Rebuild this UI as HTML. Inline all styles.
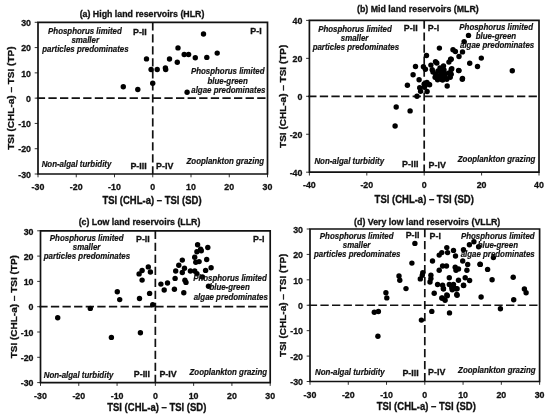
<!DOCTYPE html>
<html><head><meta charset="utf-8"><title>TSI deviation plots</title>
<style>
html,body{margin:0;padding:0;background:#fff;}
body{width:550px;height:418px;overflow:hidden;}
svg{display:block;}
text{font-family:"Liberation Sans", Arial, sans-serif;fill:#111;stroke:#111;stroke-width:0.3px;}
circle{fill:#000;}
.it{stroke-width:0.2px;}
.ax{fill:none;stroke:#111;stroke-width:1.7;}
.tk{stroke:#333;stroke-width:1;}
.dh{stroke:#111;stroke-width:1.7;stroke-dasharray:8.3 3.3;}
.dv{stroke:#111;stroke-width:1.7;stroke-dasharray:8.3 3.7;}
</style></head>
<body>
<svg width="550" height="418" viewBox="0 0 550 418">
<rect width="550" height="418" fill="#fff"/>
<line x1="38" y1="174" x2="38" y2="177.3" class="tk"/>
<text transform="translate(38,190) scale(0.95,1)" font-size="9.3" font-weight="bold" text-anchor="middle">-30</text>
<line x1="76.25" y1="174" x2="76.25" y2="177.3" class="tk"/>
<text transform="translate(76.25,190) scale(0.95,1)" font-size="9.3" font-weight="bold" text-anchor="middle">-20</text>
<line x1="114.5" y1="174" x2="114.5" y2="177.3" class="tk"/>
<text transform="translate(114.5,190) scale(0.95,1)" font-size="9.3" font-weight="bold" text-anchor="middle">-10</text>
<line x1="152.75" y1="174" x2="152.75" y2="177.3" class="tk"/>
<text transform="translate(152.75,190) scale(0.95,1)" font-size="9.3" font-weight="bold" text-anchor="middle">0</text>
<line x1="191" y1="174" x2="191" y2="177.3" class="tk"/>
<text transform="translate(191,190) scale(0.95,1)" font-size="9.3" font-weight="bold" text-anchor="middle">10</text>
<line x1="229.25" y1="174" x2="229.25" y2="177.3" class="tk"/>
<text transform="translate(229.25,190) scale(0.95,1)" font-size="9.3" font-weight="bold" text-anchor="middle">20</text>
<line x1="267.5" y1="174" x2="267.5" y2="177.3" class="tk"/>
<text transform="translate(267.5,190) scale(0.95,1)" font-size="9.3" font-weight="bold" text-anchor="middle">30</text>
<line x1="34.7" y1="174" x2="38" y2="174" class="tk"/>
<text transform="translate(31,177.7) scale(0.95,1)" font-size="9.3" font-weight="bold" text-anchor="end">-30</text>
<line x1="34.7" y1="148.72" x2="38" y2="148.72" class="tk"/>
<text transform="translate(31,152.42) scale(0.95,1)" font-size="9.3" font-weight="bold" text-anchor="end">-20</text>
<line x1="34.7" y1="123.43" x2="38" y2="123.43" class="tk"/>
<text transform="translate(31,127.13) scale(0.95,1)" font-size="9.3" font-weight="bold" text-anchor="end">-10</text>
<line x1="34.7" y1="98.15" x2="38" y2="98.15" class="tk"/>
<text transform="translate(31,101.85) scale(0.95,1)" font-size="9.3" font-weight="bold" text-anchor="end">0</text>
<line x1="34.7" y1="72.87" x2="38" y2="72.87" class="tk"/>
<text transform="translate(31,76.57) scale(0.95,1)" font-size="9.3" font-weight="bold" text-anchor="end">10</text>
<line x1="34.7" y1="47.58" x2="38" y2="47.58" class="tk"/>
<text transform="translate(31,51.28) scale(0.95,1)" font-size="9.3" font-weight="bold" text-anchor="end">20</text>
<line x1="34.7" y1="22.3" x2="38" y2="22.3" class="tk"/>
<text transform="translate(31,26) scale(0.95,1)" font-size="9.3" font-weight="bold" text-anchor="end">30</text>
<line x1="36.8" y1="98.15" x2="267.5" y2="98.15" class="dh"/>
<line x1="152.75" y1="22.3" x2="152.75" y2="174" class="dv"/>
<path d="M38,22.3H267.5V174H38Z" class="ax"/>
<circle cx="203.5" cy="34" r="2.7"/>
<circle cx="178" cy="47.9" r="2.7"/>
<circle cx="184.2" cy="54.5" r="2.7"/>
<circle cx="188.6" cy="54.5" r="2.7"/>
<circle cx="195.3" cy="57.7" r="2.7"/>
<circle cx="206.8" cy="57.4" r="2.7"/>
<circle cx="217.2" cy="53.1" r="2.7"/>
<circle cx="146.5" cy="58.9" r="2.7"/>
<circle cx="169.5" cy="59" r="2.7"/>
<circle cx="177.3" cy="62.3" r="2.7"/>
<circle cx="151.1" cy="69.5" r="2.7"/>
<circle cx="157.2" cy="69.5" r="2.7"/>
<circle cx="165.4" cy="68" r="2.7"/>
<circle cx="165.7" cy="69.6" r="2.7"/>
<circle cx="152.7" cy="83.3" r="2.7"/>
<circle cx="123.3" cy="86.8" r="2.7"/>
<circle cx="137.8" cy="89.5" r="2.7"/>
<circle cx="187.1" cy="92.3" r="2.7"/>
<text transform="translate(142,17.2)" font-size="8.8" font-weight="bold" text-anchor="middle">(a) High land reservoirs (HLR)</text>
<text transform="translate(84.9,33.7) scale(0.952,1)" font-size="8.3" font-weight="bold" font-style="italic" class="it" text-anchor="middle">Phosphorus limited</text>
<text transform="translate(85.2,43.1) scale(0.952,1)" font-size="8.3" font-weight="bold" font-style="italic" class="it" text-anchor="middle">smaller</text>
<text transform="translate(85.45,52.3) scale(0.952,1)" font-size="8.3" font-weight="bold" font-style="italic" class="it" text-anchor="middle">particles predominates</text>
<text transform="translate(227.75,74.1) scale(0.952,1)" font-size="8.3" font-weight="bold" font-style="italic" class="it" text-anchor="middle">Phosphorus limited</text>
<text transform="translate(227.65,83.5) scale(0.952,1)" font-size="8.3" font-weight="bold" font-style="italic" class="it" text-anchor="middle">blue-green</text>
<text transform="translate(228.35,92.7) scale(0.952,1)" font-size="8.3" font-weight="bold" font-style="italic" class="it" text-anchor="middle">algae predominates</text>
<text transform="translate(139.9,34.8)" font-size="8.9" font-weight="bold" text-anchor="middle">P-II</text>
<text transform="translate(256,34.2)" font-size="8.9" font-weight="bold" text-anchor="middle">P-I</text>
<text transform="translate(138.55,168.9)" font-size="8.9" font-weight="bold" text-anchor="middle">P-III</text>
<text transform="translate(164.7,168.9)" font-size="8.9" font-weight="bold" text-anchor="middle">P-IV</text>
<text transform="translate(76.5,166.5) scale(0.952,1)" font-size="8.3" font-weight="bold" font-style="italic" class="it" text-anchor="middle">Non-algal turbidity</text>
<text transform="translate(225.3,163.8) scale(0.952,1)" font-size="8.3" font-weight="bold" font-style="italic" class="it" text-anchor="middle">Zooplankton grazing</text>
<text transform="translate(14.3,98.15) rotate(-90) scale(1,0.95)" font-size="10" font-weight="bold" text-anchor="middle">TSI (CHL-a) – TSI (TP)</text>
<text transform="translate(152,204.2) scale(0.95,1)" font-size="10" font-weight="bold" text-anchor="middle">TSI (CHL-a) – TSI (SD)</text>
<line x1="309.4" y1="172.2" x2="309.4" y2="175.5" class="tk"/>
<text transform="translate(309.4,188.2) scale(0.95,1)" font-size="9.3" font-weight="bold" text-anchor="middle">-40</text>
<line x1="366.8" y1="172.2" x2="366.8" y2="175.5" class="tk"/>
<text transform="translate(366.8,188.2) scale(0.95,1)" font-size="9.3" font-weight="bold" text-anchor="middle">-20</text>
<line x1="424.2" y1="172.2" x2="424.2" y2="175.5" class="tk"/>
<text transform="translate(424.2,188.2) scale(0.95,1)" font-size="9.3" font-weight="bold" text-anchor="middle">0</text>
<line x1="481.6" y1="172.2" x2="481.6" y2="175.5" class="tk"/>
<text transform="translate(481.6,188.2) scale(0.95,1)" font-size="9.3" font-weight="bold" text-anchor="middle">20</text>
<line x1="539" y1="172.2" x2="539" y2="175.5" class="tk"/>
<text transform="translate(539,188.2) scale(0.95,1)" font-size="9.3" font-weight="bold" text-anchor="middle">40</text>
<line x1="306.1" y1="172.2" x2="309.4" y2="172.2" class="tk"/>
<text transform="translate(302.4,175.9) scale(0.95,1)" font-size="9.3" font-weight="bold" text-anchor="end">-40</text>
<line x1="306.1" y1="134.25" x2="309.4" y2="134.25" class="tk"/>
<text transform="translate(302.4,137.95) scale(0.95,1)" font-size="9.3" font-weight="bold" text-anchor="end">-20</text>
<line x1="306.1" y1="96.3" x2="309.4" y2="96.3" class="tk"/>
<text transform="translate(302.4,100) scale(0.95,1)" font-size="9.3" font-weight="bold" text-anchor="end">0</text>
<line x1="306.1" y1="58.35" x2="309.4" y2="58.35" class="tk"/>
<text transform="translate(302.4,62.05) scale(0.95,1)" font-size="9.3" font-weight="bold" text-anchor="end">20</text>
<line x1="306.1" y1="20.4" x2="309.4" y2="20.4" class="tk"/>
<text transform="translate(302.4,24.1) scale(0.95,1)" font-size="9.3" font-weight="bold" text-anchor="end">40</text>
<line x1="308.2" y1="96.3" x2="539" y2="96.3" class="dh"/>
<line x1="424.2" y1="20.4" x2="424.2" y2="172.2" class="dv"/>
<path d="M309.4,20.4H539V172.2H309.4Z" class="ax"/>
<circle cx="468.5" cy="35.4" r="2.7"/>
<circle cx="464.1" cy="41.6" r="2.7"/>
<circle cx="462.5" cy="51.9" r="2.7"/>
<circle cx="453" cy="49.7" r="2.7"/>
<circle cx="455.4" cy="51.5" r="2.7"/>
<circle cx="459" cy="56.5" r="2.7"/>
<circle cx="451.2" cy="59.3" r="2.7"/>
<circle cx="481.3" cy="58.1" r="2.7"/>
<circle cx="469.7" cy="63.2" r="2.7"/>
<circle cx="477.5" cy="66.5" r="2.7"/>
<circle cx="459" cy="70.6" r="2.7"/>
<circle cx="451.2" cy="69.4" r="2.7"/>
<circle cx="462.5" cy="78.4" r="2.7"/>
<circle cx="451.2" cy="74.2" r="2.7"/>
<circle cx="512.3" cy="70.7" r="2.7"/>
<circle cx="439.4" cy="48.1" r="2.7"/>
<circle cx="426.5" cy="55.5" r="2.7"/>
<circle cx="450.6" cy="59.2" r="2.7"/>
<circle cx="448.9" cy="62.1" r="2.7"/>
<circle cx="436.8" cy="63" r="2.7"/>
<circle cx="435.5" cy="61.7" r="2.7"/>
<circle cx="430.9" cy="65.1" r="2.7"/>
<circle cx="423.4" cy="66.7" r="2.7"/>
<circle cx="425.4" cy="69.2" r="2.7"/>
<circle cx="432.2" cy="69.7" r="2.7"/>
<circle cx="443.5" cy="65.9" r="2.7"/>
<circle cx="451.8" cy="68.8" r="2.7"/>
<circle cx="458.6" cy="70.5" r="2.7"/>
<circle cx="435.9" cy="74.3" r="2.7"/>
<circle cx="439.3" cy="76" r="2.7"/>
<circle cx="445.1" cy="74.3" r="2.7"/>
<circle cx="450.2" cy="74.3" r="2.7"/>
<circle cx="435.1" cy="77.2" r="2.7"/>
<circle cx="437.6" cy="79.7" r="2.7"/>
<circle cx="442.6" cy="80.1" r="2.7"/>
<circle cx="446.8" cy="79.3" r="2.7"/>
<circle cx="450.2" cy="77.2" r="2.7"/>
<circle cx="462.3" cy="79.3" r="2.7"/>
<circle cx="447.2" cy="86" r="2.7"/>
<circle cx="428.4" cy="84.3" r="2.7"/>
<circle cx="424.2" cy="83.9" r="2.7"/>
<circle cx="440.6" cy="71.7" r="2.7"/>
<circle cx="444.8" cy="73.5" r="2.7"/>
<circle cx="449" cy="72.9" r="2.7"/>
<circle cx="437" cy="78.2" r="2.7"/>
<circle cx="441.8" cy="79.4" r="2.7"/>
<circle cx="445.4" cy="77.6" r="2.7"/>
<circle cx="440" cy="68" r="2.7"/>
<circle cx="438" cy="71" r="2.7"/>
<circle cx="442" cy="75" r="2.7"/>
<circle cx="444" cy="70" r="2.7"/>
<circle cx="433" cy="72" r="2.7"/>
<circle cx="415.5" cy="66.5" r="2.7"/>
<circle cx="413.1" cy="74.7" r="2.7"/>
<circle cx="419.1" cy="79.7" r="2.7"/>
<circle cx="407.4" cy="85.2" r="2.7"/>
<circle cx="424.5" cy="84.2" r="2.7"/>
<circle cx="426.9" cy="82.4" r="2.7"/>
<circle cx="429.6" cy="84.8" r="2.7"/>
<circle cx="419.7" cy="87.8" r="2.7"/>
<circle cx="424.5" cy="87.2" r="2.7"/>
<circle cx="420.6" cy="91.2" r="2.7"/>
<circle cx="427.1" cy="91.5" r="2.7"/>
<circle cx="417" cy="96.3" r="2.7"/>
<circle cx="396.2" cy="107" r="2.7"/>
<circle cx="410.1" cy="110.9" r="2.7"/>
<circle cx="395.1" cy="126" r="2.7"/>
<text transform="translate(417.9,11.8)" font-size="8.8" font-weight="bold" text-anchor="middle">(b) Mid land reservoirs (MLR)</text>
<text transform="translate(355,31.5) scale(0.952,1)" font-size="8.3" font-weight="bold" font-style="italic" class="it" text-anchor="middle">Phosphorus limited</text>
<text transform="translate(354.6,40.9) scale(0.952,1)" font-size="8.3" font-weight="bold" font-style="italic" class="it" text-anchor="middle">smaller</text>
<text transform="translate(355.85,49.9) scale(0.952,1)" font-size="8.3" font-weight="bold" font-style="italic" class="it" text-anchor="middle">particles predominates</text>
<text transform="translate(496.15,29.7) scale(0.952,1)" font-size="8.3" font-weight="bold" font-style="italic" class="it" text-anchor="middle">Phosphorus limited</text>
<text transform="translate(495.95,38.9) scale(0.952,1)" font-size="8.3" font-weight="bold" font-style="italic" class="it" text-anchor="middle">blue-green</text>
<text transform="translate(497.1,48.2) scale(0.952,1)" font-size="8.3" font-weight="bold" font-style="italic" class="it" text-anchor="middle">algae predominates</text>
<text transform="translate(410.7,30.7)" font-size="8.9" font-weight="bold" text-anchor="middle">P-II</text>
<text transform="translate(433.45,30.7)" font-size="8.9" font-weight="bold" text-anchor="middle">P-I</text>
<text transform="translate(410.25,167.2)" font-size="8.9" font-weight="bold" text-anchor="middle">P-III</text>
<text transform="translate(437.2,167.7)" font-size="8.9" font-weight="bold" text-anchor="middle">P-IV</text>
<text transform="translate(349.25,163.5) scale(0.952,1)" font-size="8.3" font-weight="bold" font-style="italic" class="it" text-anchor="middle">Non-algal turbidity</text>
<text transform="translate(496.55,162.4) scale(0.952,1)" font-size="8.3" font-weight="bold" font-style="italic" class="it" text-anchor="middle">Zooplankton grazing</text>
<text transform="translate(286,96.3) rotate(-90) scale(1,0.95)" font-size="10" font-weight="bold" text-anchor="middle">TSI (CHL-a) – TSI (TP)</text>
<text transform="translate(424.2,203) scale(0.95,1)" font-size="10" font-weight="bold" text-anchor="middle">TSI (CHL-a) – TSI (SD)</text>
<line x1="40.5" y1="382.6" x2="40.5" y2="385.9" class="tk"/>
<text transform="translate(40.5,398.6) scale(0.95,1)" font-size="9.3" font-weight="bold" text-anchor="middle">-30</text>
<line x1="78.78" y1="382.6" x2="78.78" y2="385.9" class="tk"/>
<text transform="translate(78.78,398.6) scale(0.95,1)" font-size="9.3" font-weight="bold" text-anchor="middle">-20</text>
<line x1="117.07" y1="382.6" x2="117.07" y2="385.9" class="tk"/>
<text transform="translate(117.07,398.6) scale(0.95,1)" font-size="9.3" font-weight="bold" text-anchor="middle">-10</text>
<line x1="155.35" y1="382.6" x2="155.35" y2="385.9" class="tk"/>
<text transform="translate(155.35,398.6) scale(0.95,1)" font-size="9.3" font-weight="bold" text-anchor="middle">0</text>
<line x1="193.63" y1="382.6" x2="193.63" y2="385.9" class="tk"/>
<text transform="translate(193.63,398.6) scale(0.95,1)" font-size="9.3" font-weight="bold" text-anchor="middle">10</text>
<line x1="231.92" y1="382.6" x2="231.92" y2="385.9" class="tk"/>
<text transform="translate(231.92,398.6) scale(0.95,1)" font-size="9.3" font-weight="bold" text-anchor="middle">20</text>
<line x1="270.2" y1="382.6" x2="270.2" y2="385.9" class="tk"/>
<text transform="translate(270.2,398.6) scale(0.95,1)" font-size="9.3" font-weight="bold" text-anchor="middle">30</text>
<line x1="37.2" y1="382.6" x2="40.5" y2="382.6" class="tk"/>
<text transform="translate(33.5,386.3) scale(0.95,1)" font-size="9.3" font-weight="bold" text-anchor="end">-30</text>
<line x1="37.2" y1="357.3" x2="40.5" y2="357.3" class="tk"/>
<text transform="translate(33.5,361) scale(0.95,1)" font-size="9.3" font-weight="bold" text-anchor="end">-20</text>
<line x1="37.2" y1="332" x2="40.5" y2="332" class="tk"/>
<text transform="translate(33.5,335.7) scale(0.95,1)" font-size="9.3" font-weight="bold" text-anchor="end">-10</text>
<line x1="37.2" y1="306.7" x2="40.5" y2="306.7" class="tk"/>
<text transform="translate(33.5,310.4) scale(0.95,1)" font-size="9.3" font-weight="bold" text-anchor="end">0</text>
<line x1="37.2" y1="281.4" x2="40.5" y2="281.4" class="tk"/>
<text transform="translate(33.5,285.1) scale(0.95,1)" font-size="9.3" font-weight="bold" text-anchor="end">10</text>
<line x1="37.2" y1="256.1" x2="40.5" y2="256.1" class="tk"/>
<text transform="translate(33.5,259.8) scale(0.95,1)" font-size="9.3" font-weight="bold" text-anchor="end">20</text>
<line x1="37.2" y1="230.8" x2="40.5" y2="230.8" class="tk"/>
<text transform="translate(33.5,234.5) scale(0.95,1)" font-size="9.3" font-weight="bold" text-anchor="end">30</text>
<line x1="39.3" y1="306.7" x2="270.2" y2="306.7" class="dh"/>
<line x1="155.35" y1="230.8" x2="155.35" y2="382.6" class="dv"/>
<path d="M40.5,230.8H270.2V382.6H40.5Z" class="ax"/>
<circle cx="197.6" cy="244.8" r="2.7"/>
<circle cx="200.6" cy="249.2" r="2.7"/>
<circle cx="207.8" cy="247.5" r="2.7"/>
<circle cx="196.9" cy="251.8" r="2.7"/>
<circle cx="201.3" cy="250.7" r="2.7"/>
<circle cx="194.7" cy="257.3" r="2.7"/>
<circle cx="206.7" cy="259.5" r="2.7"/>
<circle cx="195.8" cy="262.3" r="2.7"/>
<circle cx="199.1" cy="261.6" r="2.7"/>
<circle cx="182.3" cy="260.1" r="2.7"/>
<circle cx="178.8" cy="265.3" r="2.7"/>
<circle cx="184.5" cy="268.2" r="2.7"/>
<circle cx="175.7" cy="271" r="2.7"/>
<circle cx="190.4" cy="271" r="2.7"/>
<circle cx="194.7" cy="271" r="2.7"/>
<circle cx="205.6" cy="270.4" r="2.7"/>
<circle cx="211.1" cy="267.7" r="2.7"/>
<circle cx="196.9" cy="273.6" r="2.7"/>
<circle cx="202.4" cy="276.9" r="2.7"/>
<circle cx="182.3" cy="272.5" r="2.7"/>
<circle cx="175.1" cy="278.4" r="2.7"/>
<circle cx="184.9" cy="280.2" r="2.7"/>
<circle cx="186" cy="282.4" r="2.7"/>
<circle cx="160.9" cy="284.1" r="2.7"/>
<circle cx="167.5" cy="283" r="2.7"/>
<circle cx="164.2" cy="290" r="2.7"/>
<circle cx="174.4" cy="289.3" r="2.7"/>
<circle cx="183.8" cy="292.8" r="2.7"/>
<circle cx="208.5" cy="286.3" r="2.7"/>
<circle cx="142.1" cy="270.5" r="2.7"/>
<circle cx="139.1" cy="273.9" r="2.7"/>
<circle cx="148.3" cy="266.9" r="2.7"/>
<circle cx="150.4" cy="272" r="2.7"/>
<circle cx="142.1" cy="280.1" r="2.7"/>
<circle cx="149.6" cy="293.4" r="2.7"/>
<circle cx="139.5" cy="298.5" r="2.7"/>
<circle cx="57.7" cy="317.8" r="2.7"/>
<circle cx="90.3" cy="308.4" r="2.7"/>
<circle cx="111.4" cy="337.4" r="2.7"/>
<circle cx="140.4" cy="332.7" r="2.7"/>
<circle cx="117.3" cy="291.8" r="2.7"/>
<circle cx="119.7" cy="299.6" r="2.7"/>
<circle cx="152.7" cy="304.8" r="2.7"/>
<text transform="translate(139.5,224.5)" font-size="8.8" font-weight="bold" text-anchor="middle">(c) Low land reservoirs (LLR)</text>
<text transform="translate(86.7,240.9) scale(0.952,1)" font-size="8.3" font-weight="bold" font-style="italic" class="it" text-anchor="middle">Phosphorus limited</text>
<text transform="translate(86.6,250) scale(0.952,1)" font-size="8.3" font-weight="bold" font-style="italic" class="it" text-anchor="middle">smaller</text>
<text transform="translate(86.9,259.4) scale(0.952,1)" font-size="8.3" font-weight="bold" font-style="italic" class="it" text-anchor="middle">particles predominates</text>
<text transform="translate(230,281) scale(0.952,1)" font-size="8.3" font-weight="bold" font-style="italic" class="it" text-anchor="middle">Phosphorus limited</text>
<text transform="translate(229.55,290) scale(0.952,1)" font-size="8.3" font-weight="bold" font-style="italic" class="it" text-anchor="middle">blue-green</text>
<text transform="translate(230.8,299.9) scale(0.952,1)" font-size="8.3" font-weight="bold" font-style="italic" class="it" text-anchor="middle">algae predominates</text>
<text transform="translate(142.9,242.4)" font-size="8.9" font-weight="bold" text-anchor="middle">P-II</text>
<text transform="translate(258.75,241.7)" font-size="8.9" font-weight="bold" text-anchor="middle">P-I</text>
<text transform="translate(141.9,377.2)" font-size="8.9" font-weight="bold" text-anchor="middle">P-III</text>
<text transform="translate(168,377.2)" font-size="8.9" font-weight="bold" text-anchor="middle">P-IV</text>
<text transform="translate(78.55,377.9) scale(0.952,1)" font-size="8.3" font-weight="bold" font-style="italic" class="it" text-anchor="middle">Non-algal turbidity</text>
<text transform="translate(228.35,375) scale(0.952,1)" font-size="8.3" font-weight="bold" font-style="italic" class="it" text-anchor="middle">Zooplankton grazing</text>
<text transform="translate(17,306.7) rotate(-90) scale(1,0.95)" font-size="10" font-weight="bold" text-anchor="middle">TSI (CHL-a) – TSI (TP)</text>
<text transform="translate(156.8,411.3) scale(0.95,1)" font-size="10" font-weight="bold" text-anchor="middle">TSI (CHL-a) – TSI (SD)</text>
<line x1="310" y1="381.5" x2="310" y2="384.8" class="tk"/>
<text transform="translate(310,397.5) scale(0.95,1)" font-size="9.3" font-weight="bold" text-anchor="middle">-30</text>
<line x1="348.27" y1="381.5" x2="348.27" y2="384.8" class="tk"/>
<text transform="translate(348.27,397.5) scale(0.95,1)" font-size="9.3" font-weight="bold" text-anchor="middle">-20</text>
<line x1="386.53" y1="381.5" x2="386.53" y2="384.8" class="tk"/>
<text transform="translate(386.53,397.5) scale(0.95,1)" font-size="9.3" font-weight="bold" text-anchor="middle">-10</text>
<line x1="424.8" y1="381.5" x2="424.8" y2="384.8" class="tk"/>
<text transform="translate(424.8,397.5) scale(0.95,1)" font-size="9.3" font-weight="bold" text-anchor="middle">0</text>
<line x1="463.07" y1="381.5" x2="463.07" y2="384.8" class="tk"/>
<text transform="translate(463.07,397.5) scale(0.95,1)" font-size="9.3" font-weight="bold" text-anchor="middle">10</text>
<line x1="501.33" y1="381.5" x2="501.33" y2="384.8" class="tk"/>
<text transform="translate(501.33,397.5) scale(0.95,1)" font-size="9.3" font-weight="bold" text-anchor="middle">20</text>
<line x1="539.6" y1="381.5" x2="539.6" y2="384.8" class="tk"/>
<text transform="translate(539.6,397.5) scale(0.95,1)" font-size="9.3" font-weight="bold" text-anchor="middle">30</text>
<line x1="306.7" y1="381.5" x2="310" y2="381.5" class="tk"/>
<text transform="translate(303,385.2) scale(0.95,1)" font-size="9.3" font-weight="bold" text-anchor="end">-30</text>
<line x1="306.7" y1="356.08" x2="310" y2="356.08" class="tk"/>
<text transform="translate(303,359.78) scale(0.95,1)" font-size="9.3" font-weight="bold" text-anchor="end">-20</text>
<line x1="306.7" y1="330.67" x2="310" y2="330.67" class="tk"/>
<text transform="translate(303,334.37) scale(0.95,1)" font-size="9.3" font-weight="bold" text-anchor="end">-10</text>
<line x1="306.7" y1="305.25" x2="310" y2="305.25" class="tk"/>
<text transform="translate(303,308.95) scale(0.95,1)" font-size="9.3" font-weight="bold" text-anchor="end">0</text>
<line x1="306.7" y1="279.83" x2="310" y2="279.83" class="tk"/>
<text transform="translate(303,283.53) scale(0.95,1)" font-size="9.3" font-weight="bold" text-anchor="end">10</text>
<line x1="306.7" y1="254.42" x2="310" y2="254.42" class="tk"/>
<text transform="translate(303,258.12) scale(0.95,1)" font-size="9.3" font-weight="bold" text-anchor="end">20</text>
<line x1="306.7" y1="229" x2="310" y2="229" class="tk"/>
<text transform="translate(303,232.7) scale(0.95,1)" font-size="9.3" font-weight="bold" text-anchor="end">30</text>
<line x1="308.8" y1="305.25" x2="539.6" y2="305.25" class="dh"/>
<line x1="424.8" y1="229" x2="424.8" y2="381.5" class="dv"/>
<path d="M310,229H539.6V381.5H310Z" class="ax"/>
<circle cx="414.9" cy="243.4" r="2.7"/>
<circle cx="411.9" cy="263.1" r="2.7"/>
<circle cx="399" cy="276" r="2.7"/>
<circle cx="399.8" cy="280.2" r="2.7"/>
<circle cx="406" cy="288.6" r="2.7"/>
<circle cx="385.9" cy="292.8" r="2.7"/>
<circle cx="386.8" cy="297.9" r="2.7"/>
<circle cx="422.8" cy="272.7" r="2.7"/>
<circle cx="422.3" cy="275.2" r="2.7"/>
<circle cx="420.3" cy="278.9" r="2.7"/>
<circle cx="374.3" cy="312.2" r="2.7"/>
<circle cx="378.4" cy="311.5" r="2.7"/>
<circle cx="421.4" cy="320.1" r="2.7"/>
<circle cx="377.9" cy="336.2" r="2.7"/>
<circle cx="473.9" cy="241.7" r="2.7"/>
<circle cx="469.4" cy="244.7" r="2.7"/>
<circle cx="478.6" cy="246.8" r="2.7"/>
<circle cx="446.8" cy="247.6" r="2.7"/>
<circle cx="441.8" cy="252.6" r="2.7"/>
<circle cx="439.2" cy="255.1" r="2.7"/>
<circle cx="447.6" cy="252.6" r="2.7"/>
<circle cx="453.5" cy="250.4" r="2.7"/>
<circle cx="455.5" cy="256" r="2.7"/>
<circle cx="463.5" cy="249.8" r="2.7"/>
<circle cx="432.5" cy="261" r="2.7"/>
<circle cx="462.7" cy="261" r="2.7"/>
<circle cx="467.7" cy="264.4" r="2.7"/>
<circle cx="480.3" cy="264.4" r="2.7"/>
<circle cx="442.6" cy="266" r="2.7"/>
<circle cx="446.5" cy="266" r="2.7"/>
<circle cx="439.2" cy="270.2" r="2.7"/>
<circle cx="455.2" cy="267.2" r="2.7"/>
<circle cx="458.5" cy="268.9" r="2.7"/>
<circle cx="456" cy="270.2" r="2.7"/>
<circle cx="466.9" cy="270.2" r="2.7"/>
<circle cx="430.9" cy="275.2" r="2.7"/>
<circle cx="430.9" cy="278.6" r="2.7"/>
<circle cx="449.3" cy="277.8" r="2.7"/>
<circle cx="465.2" cy="277.8" r="2.7"/>
<circle cx="430" cy="282" r="2.7"/>
<circle cx="458.5" cy="280.3" r="2.7"/>
<circle cx="437.6" cy="284.5" r="2.7"/>
<circle cx="442.6" cy="285.3" r="2.7"/>
<circle cx="449.3" cy="284.5" r="2.7"/>
<circle cx="453.5" cy="284.5" r="2.7"/>
<circle cx="463.5" cy="285.3" r="2.7"/>
<circle cx="443.4" cy="288.7" r="2.7"/>
<circle cx="451.8" cy="287.8" r="2.7"/>
<circle cx="456" cy="288.7" r="2.7"/>
<circle cx="434.2" cy="293.3" r="2.7"/>
<circle cx="446.8" cy="295" r="2.7"/>
<circle cx="456.8" cy="294.5" r="2.7"/>
<circle cx="441.8" cy="297.9" r="2.7"/>
<circle cx="481.1" cy="297" r="2.7"/>
<circle cx="443.5" cy="288.7" r="2.7"/>
<circle cx="453.8" cy="287.6" r="2.7"/>
<circle cx="452.2" cy="289.8" r="2.7"/>
<circle cx="457.1" cy="288.7" r="2.7"/>
<circle cx="469.6" cy="280.5" r="2.7"/>
<circle cx="463.6" cy="285.5" r="2.7"/>
<circle cx="447.3" cy="295.8" r="2.7"/>
<circle cx="457.1" cy="295.3" r="2.7"/>
<circle cx="442.4" cy="298.3" r="2.7"/>
<circle cx="445.1" cy="300.2" r="2.7"/>
<circle cx="431.8" cy="311.4" r="2.7"/>
<circle cx="449.5" cy="312.9" r="2.7"/>
<circle cx="493.4" cy="257.6" r="2.7"/>
<circle cx="480" cy="264.3" r="2.7"/>
<circle cx="487.6" cy="269.4" r="2.7"/>
<circle cx="492.1" cy="279.7" r="2.7"/>
<circle cx="513.2" cy="277.2" r="2.7"/>
<circle cx="524.4" cy="289" r="2.7"/>
<circle cx="526.1" cy="292.8" r="2.7"/>
<circle cx="500.4" cy="308.8" r="2.7"/>
<circle cx="513.7" cy="299.8" r="2.7"/>
<text transform="translate(427.2,224.6)" font-size="8.8" font-weight="bold" text-anchor="middle">(d) Very low land reservoirs (VLLR)</text>
<text transform="translate(356.7,239.3) scale(0.952,1)" font-size="8.3" font-weight="bold" font-style="italic" class="it" text-anchor="middle">Phosphorus limited</text>
<text transform="translate(356.6,248) scale(0.952,1)" font-size="8.3" font-weight="bold" font-style="italic" class="it" text-anchor="middle">smaller</text>
<text transform="translate(357.25,257.4) scale(0.952,1)" font-size="8.3" font-weight="bold" font-style="italic" class="it" text-anchor="middle">particles predominates</text>
<text transform="translate(497.8,238.9) scale(0.952,1)" font-size="8.3" font-weight="bold" font-style="italic" class="it" text-anchor="middle">Phosphorus limited</text>
<text transform="translate(497.8,248) scale(0.952,1)" font-size="8.3" font-weight="bold" font-style="italic" class="it" text-anchor="middle">blue-green</text>
<text transform="translate(497.7,257.4) scale(0.952,1)" font-size="8.3" font-weight="bold" font-style="italic" class="it" text-anchor="middle">algae predominates</text>
<text transform="translate(412.55,238.2)" font-size="8.9" font-weight="bold" text-anchor="middle">P-II</text>
<text transform="translate(435.25,239.3)" font-size="8.9" font-weight="bold" text-anchor="middle">P-I</text>
<text transform="translate(410.55,375.7)" font-size="8.9" font-weight="bold" text-anchor="middle">P-III</text>
<text transform="translate(436.7,375.3)" font-size="8.9" font-weight="bold" text-anchor="middle">P-IV</text>
<text transform="translate(349.9,374.9) scale(0.952,1)" font-size="8.3" font-weight="bold" font-style="italic" class="it" text-anchor="middle">Non-algal turbidity</text>
<text transform="translate(496.9,373.1) scale(0.952,1)" font-size="8.3" font-weight="bold" font-style="italic" class="it" text-anchor="middle">Zooplankton grazing</text>
<text transform="translate(285.9,305.25) rotate(-90) scale(1,0.95)" font-size="10" font-weight="bold" text-anchor="middle">TSI (CHL-a) – TSI (TP)</text>
<text transform="translate(426.3,410.3) scale(0.95,1)" font-size="10" font-weight="bold" text-anchor="middle">TSI (CHL-a) – TSI (SD)</text>
</svg>
</body></html>
